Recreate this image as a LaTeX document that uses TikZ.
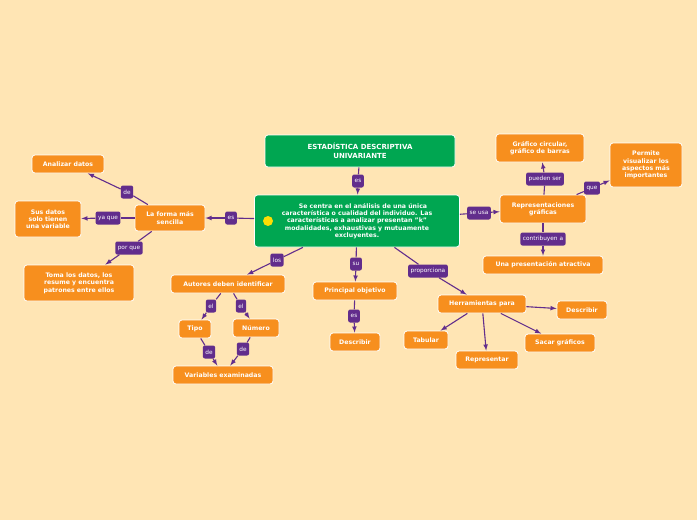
\documentclass[tikz,border=0pt]{standalone}
\usepackage{fontspec}
\setmainfont{DejaVu Sans}
\definecolor{bg}{RGB}{255,229,180}
\definecolor{gr}{RGB}{0,166,81}
\definecolor{orr}{RGB}{247,143,30}
\definecolor{pu}{RGB}{98,45,140}
\tikzset{
 box/.style={draw=white,line width=0.8pt,rounded corners=3pt,fill=orr,text=white,font=\bfseries\fontsize{6.2}{7.3}\selectfont,align=center,inner sep=2pt,minimum height=18pt},
 gbox/.style={box,fill=gr},
 lab/.style={fill=pu,text=white,rounded corners=2pt,font=\fontsize{5.8}{7}\selectfont,inner sep=2.5pt,minimum height=13pt},
 con/.style={draw=pu,line width=1.1pt},
 arr/.style={con,-latex},
}
\begin{document}
\begin{tikzpicture}[x=1pt,y=-1pt]
\fill[bg] (0,0) rectangle (697,520);
\useasboundingbox (0,0) rectangle (697,520);
\node[gbox,minimum width=190,minimum height=32,font=\bfseries\fontsize{7}{9}\selectfont] (t) at (360,151) {ESTADÍSTICA DESCRIPTIVA\\UNIVARIANTE};
\node[gbox,minimum width=205,minimum height=52] (m) at (357,221) {\hspace*{12pt}Se centra en el análisis de una única\\ característica o cualidad del individuo. Las\\ características a analizar presentan "k"\\ modalidades, exhaustivas y mutuamente\\ excluyentes.};
\fill[yellow!80!orange] (268,221) circle (5);
\node[box,minimum width=70,minimum height=26] (f) at (170,218) {La forma más\\sencilla};
\node[box,minimum width=72] (a) at (68,164) {Analizar datos};
\node[box,minimum width=66,minimum height=36] (s) at (48,219) {Sus datos\\solo tienen\\una variable};
\node[box,minimum width=110,minimum height=36] (tm) at (79,283) {Toma los datos, los\\resume y encuentra\\patrones entre ellos};
\node[box,minimum width=114] (au) at (228,284) {Autores deben identificar};
\node[box,minimum width=32] (ti) at (195,329) {Tipo};
\node[box,minimum width=46] (nu) at (256,328) {Número};
\node[box,minimum width=100] (va) at (223,375) {Variables examinadas};
\node[box,minimum width=84] (po) at (355,291) {Principal objetivo};
\node[box,minimum width=50] (d1) at (355,342) {Describir};
\node[box,minimum width=88] (he) at (482,304) {Herramientas para};
\node[box,minimum width=50] (d2) at (582,310) {Describir};
\node[box,minimum width=44] (ta) at (426,340) {Tabular};
\node[box,minimum width=62] (re) at (487,360) {Representar};
\node[box,minimum width=70] (sg) at (560,343) {Sacar gráficos};
\node[box,minimum width=86,minimum height=28] (rg) at (543,209) {Representaciones\\gráficas};
\node[box,minimum width=88,minimum height=28] (gc) at (540,148) {Gráfico circular,\\gráfico de barras};
\node[box,minimum width=72,minimum height=44] (pv) at (646,165) {Permite\\visualizar los\\aspectos más\\importantes};
\node[box,minimum width=120] (up) at (543,265) {Una presentación atractiva};
% labels
\node[lab] (l1) at (358,181) {es};
\node[lab] (l2) at (231,218) {es};
\node[lab] (l3) at (127,192) {de};
\node[lab] (l4) at (108,218) {ya que};
\node[lab] (l5) at (129,248) {por que};
\node[lab] (l6) at (277,260) {los};
\node[lab] (l7) at (211,306) {el};
\node[lab] (l8) at (241,306) {el};
\node[lab] (l9) at (209,352) {de};
\node[lab] (l10) at (243,349) {de};
\node[lab] (l11) at (356,264) {su};
\node[lab] (l12) at (354,316) {es};
\node[lab] (l13) at (428,271) {proporciona};
\node[lab] (l14) at (479,213) {se usa};
\node[lab] (l15) at (545,179) {pueden ser};
\node[lab] (l16) at (592,188) {que};
\node[lab] (l17) at (543,239) {contribuyen a};
% connectors
\draw[con] (t)--(l1); \draw[arr] (l1)--(m);
\draw[con] (m)--(l2); \draw[arr] (l2)--(f);
\draw[con] (f)--(l3); \draw[arr] (l3)--(a);
\draw[con] (f)--(l4); \draw[arr] (l4)--(s);
\draw[con] (f)--(l5); \draw[arr] (l5)--(tm);
\draw[con] (m)--(l6); \draw[arr] (l6)--(au);
\draw[con] (au)--(l7); \draw[arr] (l7)--(ti);
\draw[con] (au)--(l8); \draw[arr] (l8)--(nu);
\draw[con] (ti)--(l9); \draw[arr] (l9)--(va);
\draw[con] (nu)--(l10); \draw[arr] (l10)--(va);
\draw[con] (m)--(l11); \draw[arr] (l11)--(po);
\draw[con] (po)--(l12); \draw[arr] (l12)--(d1);
\draw[con] (m)--(l13); \draw[arr] (l13)--(he);
\draw[arr] (he)--(d2); \draw[arr] (he)--(ta); \draw[arr] (he)--(re); \draw[arr] (he)--(sg);
\draw[con] (m)--(l14); \draw[arr] (l14)--(rg);
\draw[con] (rg)--(l15); \draw[arr] (l15)--(gc);
\draw[con] (rg)--(l16); \draw[arr] (l16)--(pv);
\draw[con] (rg)--(l17); \draw[arr] (l17)--(up);
\end{tikzpicture}
\end{document}
